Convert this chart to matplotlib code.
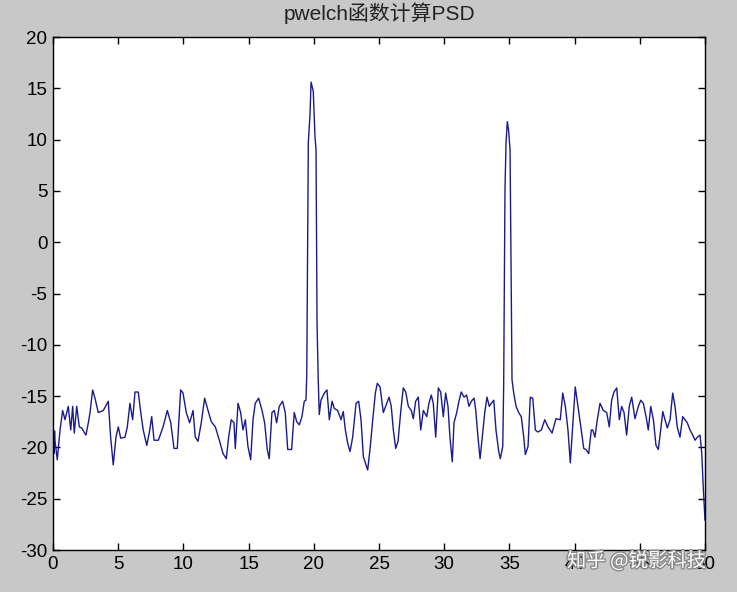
import numpy as np
import matplotlib.pyplot as plt
import matplotlib.patheffects as pe

# PSD curve (frequency in Hz, power in dB)
freq = [0.00, 0.08, 0.12, 0.15, 0.33, 0.54, 0.74, 0.92, 1.17, 1.36, 1.51, 1.63, 1.82,
        2.02, 2.20, 2.38, 2.53, 2.71, 2.84, 3.04, 3.22, 3.47, 3.86, 4.24, 4.42, 4.62,
        4.83, 5.01, 5.19, 5.52, 5.70, 5.90, 6.11, 6.29, 6.54, 6.73, 6.92, 7.19, 7.38,
        7.57, 7.75, 8.08, 8.44, 8.77, 9.03, 9.28, 9.53, 9.79, 9.97, 10.22, 10.48, 10.74,
        10.91, 11.12, 11.37, 11.63, 11.89, 12.14, 12.45, 12.71, 13.04, 13.29, 13.47,
        13.67, 13.88, 13.98, 14.19, 14.39, 14.57, 14.75, 14.95, 15.16, 15.34, 15.51,
        15.77, 16.03, 16.23, 16.43, 16.58, 16.79, 16.97, 17.15, 17.35, 17.61, 17.81,
        18.00, 18.30, 18.50, 18.69, 18.89, 19.09, 19.27, 19.40, 19.46, 19.58, 19.71,
        19.79, 19.96, 20.09, 20.17, 20.25, 20.34, 20.42, 20.55, 20.81, 21.01, 21.19,
        21.40, 21.57, 21.83, 22.09, 22.26, 22.42, 22.60, 22.78, 22.98, 23.24, 23.44,
        23.62, 23.80, 23.95, 24.13, 24.31, 24.52, 24.72, 24.87, 25.08, 25.33, 25.59,
        25.77, 25.94, 26.10, 26.28, 26.46, 26.66, 26.86, 27.05, 27.25, 27.48, 27.63,
        27.81, 28.01, 28.20, 28.40, 28.66, 28.83, 29.01, 29.16, 29.35, 29.55, 29.73,
        29.93, 30.11, 30.29, 30.44, 30.62, 30.75, 30.96, 31.13, 31.31, 31.52, 31.72,
        31.90, 32.08, 32.29, 32.42, 32.59, 32.75, 33.00, 33.11, 33.28, 33.46, 33.61,
        33.80, 33.97, 34.18, 34.30, 34.49, 34.56, 34.66, 34.74, 34.84, 34.93, 35.05,
        35.12, 35.20, 35.33, 35.51, 35.71, 35.91, 36.10, 36.22, 36.43, 36.60, 36.79,
        36.99, 37.19, 37.45, 37.71, 37.96, 38.27, 38.57, 38.90, 39.09, 39.29, 39.49,
        39.67, 39.85, 40.05, 40.26, 40.51, 40.70, 40.87, 41.08, 41.28, 41.39, 41.56,
        41.74, 41.95, 42.20, 42.46, 42.66, 42.84, 43.02, 43.23, 43.43, 43.61, 43.79,
        43.99, 44.19, 44.38, 44.63, 44.89, 45.07, 45.27, 45.48, 45.65, 45.84, 46.04,
        46.24, 46.42, 46.60, 46.76, 46.93, 47.11, 47.32, 47.52, 47.70, 47.87, 48.08,
        48.29, 48.47, 48.64, 48.85, 49.06, 49.23, 49.41, 49.62, 49.75, 49.87, 50.00]
psd = [-17.6, -20.6, -18.4, -19.3, -21.2, -18.3, -16.4, -17.3, -16.0, -18.3, -16.0, -18.6, -16.0,
       -18.0, -18.1, -18.5, -18.8, -17.6, -16.6, -14.4, -15.2, -16.6, -16.4, -15.5, -19.0, -21.7,
       -19.0, -18.0, -19.1, -19.0, -18.0, -15.7, -17.3, -14.6, -14.6, -16.6, -18.3, -19.8, -18.6,
       -17.0, -19.3, -19.3, -18.0, -16.4, -17.6, -20.1, -20.1, -14.4, -14.7, -16.6, -17.6, -16.4,
       -19.0, -19.4, -17.6, -15.2, -16.4, -17.5, -18.0, -19.1, -20.6, -21.1, -19.0,
       -17.3, -17.6, -20.1, -15.7, -16.6, -18.3, -17.3, -19.9, -21.2, -17.3, -15.7,
       -15.2, -16.4, -17.6, -20.2, -21.1, -16.6, -16.4, -17.6, -16.0, -15.5, -16.6,
       -20.2, -20.2, -16.6, -17.5, -17.8, -17.0, -15.5, -15.4, -13.0, 9.7, 12.5,
       15.6, 14.7, 10.3, 9.0, -8.0, -13.4, -16.8, -15.4, -14.7, -14.4, -17.3,
       -15.5, -16.2, -16.4, -17.3, -16.5, -18.3, -19.6, -20.4, -19.0, -15.7, -15.5,
       -17.3, -20.9, -21.5, -22.2, -20.2, -17.3, -14.7, -13.75, -14.1, -16.6, -15.7,
       -15.1, -16.0, -18.3, -20.1, -19.4, -16.6, -14.2, -14.6, -16.0, -16.4, -17.2,
       -15.5, -15.1, -18.3, -16.4, -17.0, -15.7, -14.9, -15.7, -19.0, -14.2, -14.6,
       -17.0, -14.7, -16.0, -19.0, -21.4, -17.6, -16.6, -15.5, -14.6, -15.1, -14.9,
       -16.0, -15.5, -15.2, -16.4, -19.0, -21.1, -18.0, -16.6, -15.1, -16.0, -15.7,
       -15.4, -18.3, -20.4, -21.1, -19.9, -14.0, 5.0, 9.7, 11.75, 11.0, 9.0,
       -2.0, -13.4, -14.7, -16.0, -16.6, -17.0, -19.0, -20.7, -19.9, -15.1, -15.2,
       -18.3, -18.5, -18.3, -17.3, -18.0, -18.6, -17.2, -17.3, -14.7, -16.0, -18.3,
       -21.5, -18.0, -14.1, -16.0, -18.3, -20.1, -20.2, -20.6, -18.3, -18.3, -19.0,
       -17.3, -15.7, -16.4, -16.6, -18.0, -15.4, -14.6, -14.2, -17.3, -16.0, -16.6,
       -18.8, -16.0, -15.1, -17.2, -16.0, -15.4, -15.7, -17.0, -18.3, -16.0, -17.3,
       -19.8, -20.2, -18.3, -16.5, -17.3, -18.1, -17.3, -14.7, -16.0, -18.0, -19.0,
       -17.0, -17.3, -17.6, -18.3, -18.8, -19.3, -19.0, -18.8, -20.6, -24.0, -27.1]

x_ticks = np.arange(0, 51, 5)
y_ticks = np.arange(-30, 21, 5)

plt.rcParams['font.family'] = ['Liberation Sans', 'Noto Sans CJK SC']
plt.rcParams['axes.unicode_minus'] = False

fig = plt.figure(figsize=(7.37, 5.92), dpi=100, facecolor='#c8c8c8')
ax = fig.add_axes([0.0719, 0.0709, 0.8847, 0.8666])
ax.plot(freq, psd, color='#1a1a90', linewidth=1.0)

ax.set_xlim(0, 50)
ax.set_ylim(-30, 20)
ax.set_xticks(x_ticks)
ax.set_yticks(y_ticks)
ax.tick_params(direction='in', top=True, right=True, length=5, width=1,
               labelsize=13.5, pad=4, colors='black')
for s in ax.spines.values():
    s.set_linewidth(1)
ax.set_title('pwelch函数计算PSD', fontsize=15, pad=12, color='#222222')

# watermark in the bottom right corner
fig.text(0.864, 0.052, '知乎 @锐影科技', fontsize=14, color='white', ha='center', va='center',
         family=['Noto Sans CJK SC'],
         path_effects=[pe.withStroke(linewidth=2, foreground='#8a8a8a')])

fig.savefig('out.png', dpi=100, facecolor=fig.get_facecolor())
